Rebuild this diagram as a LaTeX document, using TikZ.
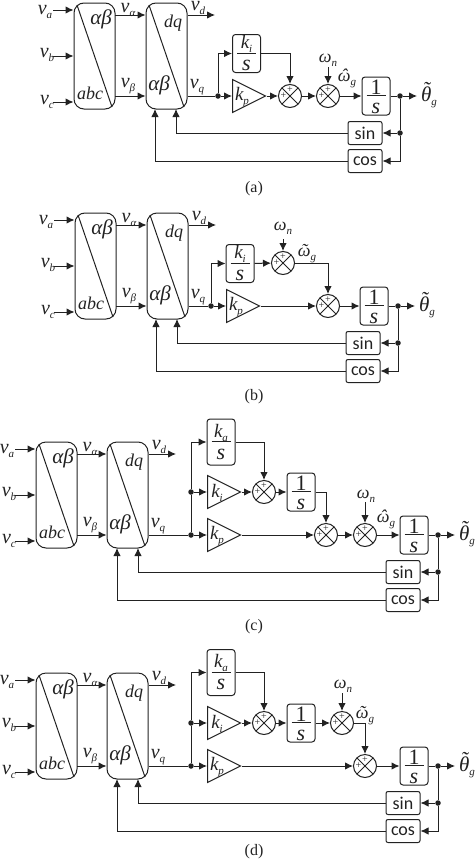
\documentclass[tikz,border=0pt]{standalone}
\usepackage{fontspec}
\setmainfont{Liberation Serif}
\newfontfamily\sinfont{Carlito}
\usetikzlibrary{arrows.meta,shapes.geometric}
\definecolor{ink}{HTML}{222222}
\newcommand\sbs[1]{\raisebox{-4pt}{\fontsize{11}{12}\selectfont\itshape #1}}
\newcommand\sbv[2]{#1\sbs{#2}}
\newcommand\vv[1]{{\fontsize{20}{20}\selectfont v}\sbs{#1}}
\newcommand\ab{{\fontsize{21}{22}\selectfont αβ}}
\newcommand\thg{{\fontsize{21}{22}\selectfont\acc{θ}{5pt}{˜}}\sbs{g}}
% accent placed over a letter: letter, raise, accent glyph
\newcommand\acc[3]{\leavevmode\ooalign{#1\cr\hidewidth\raisebox{#2}{#3}\hidewidth\cr}}
% fraction of fixed size: numerator, its raise, denominator
\newcommand\fr[3]{\makebox[0pt]{\raisebox{#2}[0pt][0pt]{#1}}\makebox[0pt]{\raisebox{0pt}[0pt][0pt]{\rule{19pt}{0.8pt}}}\makebox[0pt]{\raisebox{-17pt}[0pt][0pt]{#3}}}
\newcommand\kk[1]{{\fontsize{19}{20}\selectfont k}\sbs{#1}}
\tikzset{
 ln/.style={line width=1pt,draw=ink},
 arr/.style={ln,-{Latex[length=8pt,width=7.5pt]}},
 txt/.style={inner sep=0pt,text=ink,font=\fontsize{18}{20}\selectfont\itshape},
 conv/.style={ln,rectangle,rounded corners=10pt,minimum width=41pt,minimum height=106pt,inner sep=0pt},
 intbox/.style={ln,rectangle,rounded corners=3pt,minimum width=28pt,minimum height=38pt,inner sep=0pt,text=ink,font=\fontsize{22}{24}\selectfont\itshape},
 tallbox/.style={intbox,minimum height=46pt},
 fn/.style={ln,rectangle,rounded corners=2pt,minimum width=34pt,minimum height=23pt,inner sep=0pt,text=ink,font=\fontsize{18}{20}\selectfont\sinfont},
 tri/.style={ln,isosceles triangle,isosceles triangle stretches,shape border rotate=0,minimum width=33pt,minimum height=33pt,inner sep=0pt,anchor=lower side},
 sumj/.style={ln,circle,minimum size=23pt,inner sep=0pt,path picture={
   \draw[ln] (path picture bounding box.north west)--(path picture bounding box.south east);
   \draw[ln] (path picture bounding box.north east)--(path picture bounding box.south west);}},
 dot/.style={circle,fill=ink,inner sep=0pt,minimum size=5.5pt},
 plus/.style={inner sep=0pt,text=ink,font=\fontsize{10}{10}\selectfont},
 captext/.style={inner sep=0pt,text=ink,font=\fontsize{16}{18}\selectfont},
}
\newcommand\sumj[3]{%
 \node[sumj] (#1) at (#2,#3) {};
 \node[plus] (#1t) at ([yshift=6.5pt]#1.center) {+};
 \node[plus] (#1l) at ([xshift=-6.5pt]#1.center) {+};}
\newcommand\tri[4]{%
 \node[tri] (#1) at (#2,#3) {};
 \node[txt] (#1t) at (#2+10,#3+1) {\kk{#4}};}
% front part: two converters, inputs, outputs
\newcommand\front[4]{% prefix, x0, y0, dq offset
 \begin{scope}[shift={(#2,#3)}]
 \node[conv] (#1abc) at (20.5,53) {};
 \node[conv] (#1dq) at (#4+20.5,53) {};
 \coordinate (#1ia) at (-21,7);
 \coordinate (#1ib) at (-21,53);
 \coordinate (#1ic) at (-21,99);
 \coordinate (#1oa) at (41,12);
 \coordinate (#1ob) at (41,93);
 \coordinate (#1od) at (#4+69,12);
 \coordinate (#1fs) at (102,106);
 \coordinate (#1fc) at (81,106);
 \coordinate (#1ds1) at (3,2);
 \coordinate (#1de1) at (38,104);
 \coordinate (#1ds2) at (#4+3,2);
 \coordinate (#1de2) at (#4+38,104);
 \node[txt] (#1la) at (-29,9) {\vv{a}};
 \node[txt] (#1lb) at (-27,52) {\vv{b}};
 \node[txt] (#1lc) at (-27,99) {\vv{c}};
 \node[txt] (#1lab) at (27,16) {\ab};
 \node[txt] (#1labc) at (16,90) {abc};
 \node[txt] (#1ldq) at (#4+27,20) {dq};
 \node[txt] (#1lab2) at (#4+13,82) {\ab};
 \node[txt] (#1lva) at (54,7) {\vv{α}};
 \node[txt] (#1lvb) at (54,83) {\vv{β}};
 \node[txt] (#1lvd) at (#4+52,5) {\vv{d}};
 \node[txt] (#1lvq) at (#4+51,84) {\vv{q}};
 \end{scope}
 \draw[ln] (#1ds1)--(#1de1);
 \draw[ln] (#1ds2)--(#1de2);
 \draw[arr] (#1ia)--(#1ia-|#1abc.west);
 \draw[arr] (#1ib)--(#1ib-|#1abc.west);
 \draw[arr] (#1ic)--(#1ic-|#1abc.west);
 \draw[arr] (#1oa)--(#1oa-|#1dq.west);
 \draw[arr] (#1ob)--(#1ob-|#1dq.west);
 \draw[arr] (#1od-|#1dq.east)--(#1od);}
% back part: integrator, output, sin, cos, feedback
\newcommand\back[5]{% prefix, x, y, caption, caption y
 \node[intbox] (#1int) at (#2+14,#3) {\fr{\upshape 1}{2pt}{s}};
 \node[dot] (#1jo) at (#2+38,#3) {};
 \coordinate (#1out) at (#2+55,#3);
 \node[txt] (#1lth) at (#2+67,#3+1) {\thg};
 \node[fn] (#1sin) at (#2+3,#3+37) {sin};
 \node[fn] (#1cos) at (#2+3,#3+65) {cos};
 \node[dot] (#1js) at (#2+38,#3+37) {};
 \draw[ln] (#1int)--(#1jo);
 \draw[arr] (#1jo)--(#1out);
 \draw[ln] (#1jo)--(#1js);
 \draw[arr] (#1js)--(#1sin);
 \draw[arr] (#1js)|-(#1cos);
 \draw[arr] (#1sin)-|(#1fs);
 \draw[arr] (#1cos)-|(#1fc);
 \node[captext] (#1cap) at (254,#5) {(#4)};}
\begin{document}
\begin{tikzpicture}[x=1pt,y=-1pt]
\useasboundingbox (0,0) rectangle (474,862);
% ---------- (a)
\front{a}{74}{3}{72}
\back{a}{362}{96}{a}{189}
\node[dot] (aj) at (218,96) {};
\node[intbox] (aki) at (246.5,53.5) {\fr{\kk{i}}{5pt}{s}};
\tri{akp}{232}{96}{p}
\sumj{as1}{290}{96}
\sumj{as2}{328}{96}
\coordinate (awn) at (328,67);
\node[txt] (alwn) at (328,60) {\sbv{ω}{n}};
\node[txt] (alwg) at (347,80) {\acc{ω}{0pt}{ˆ}\sbs{g}};
\draw[ln] (adq.east|-aj)--(aj);
\draw[arr] (aj)--(akp.lower side);
\draw[arr] (aj)|-(aki);
\draw[arr] (aki)-|(as1);
\draw[arr] (akp.apex)--(as1);
\draw[arr] (as1)--(as2);
\draw[arr] (awn)--(as2);
\draw[arr] (as2)--(aint);
% ---------- (b)
\front{b}{75}{213}{72}
\back{b}{360}{306}{b}{397}
\node[dot] (bj) at (211,306) {};
\node[intbox] (bki) at (240,263.5) {\fr{\kk{i}}{5pt}{s}};
\tri{bkp}{226}{306}{p}
\sumj{bs1}{283}{263}
\sumj{bs2}{328}{306}
\coordinate (bwn) at (283,239);
\node[txt] (blwn) at (283,228) {\sbv{ω}{n}};
\node[txt] (blwg) at (307,255) {\acc{ω}{0pt}{˜}\sbs{g}};
\draw[ln] (bdq.east|-bj)--(bj);
\draw[arr] (bj)--(bkp.lower side);
\draw[arr] (bj)|-(bki);
\draw[arr] (bki)--(bs1);
\draw[arr] (bwn)--(bs1);
\draw[arr] (bs1)-|(bs2);
\draw[arr] (bkp.apex)--(bs2);
\draw[arr] (bs2)--(bint);
% ---------- (c)
\front{c}{36}{442}{71}
\back{c}{400}{535}{c}{627}
\node[dot] (cj) at (191,535) {};
\node[dot] (cj2) at (191,492) {};
\node[tallbox] (cka) at (221,442) {\fr{\kk{a}}{5pt}{s}};
\tri{cki}{207}{492}{i}
\tri{ckp}{207}{535}{p}
\sumj{cs1}{264}{492}
\node[intbox] (ci1) at (301,492) {\fr{\upshape 1}{2pt}{s}};
\sumj{cs2}{326}{535}
\sumj{cs3}{365}{535}
\coordinate (cwn) at (365,502);
\node[txt] (clwn) at (366,496) {\sbv{ω}{n}};
\node[txt] (clwg) at (386,521) {\acc{ω}{0pt}{ˆ}\sbs{g}};
\draw[ln] (cdq.east|-cj)--(cj);
\draw[ln] (cj)--(cj2);
\draw[arr] (cj)--(ckp.lower side);
\draw[arr] (cj2)--(cki.lower side);
\draw[arr] (cj2)|-(cka);
\draw[arr] (cka)-|(cs1);
\draw[arr] (cki.apex)--(cs1);
\draw[arr] (cs1)--(ci1);
\draw[arr] (ci1)-|(cs2);
\draw[arr] (ckp.apex)--(cs2);
\draw[arr] (cs2)--(cs3);
\draw[arr] (cwn)--(cs3);
\draw[arr] (cs3)--(cint);
% ---------- (d)
\front{d}{36}{673}{71}
\back{d}{400}{766}{d}{852}
\node[dot] (dj) at (191,766) {};
\node[dot] (dj2) at (191,723) {};
\node[tallbox] (dka) at (221,672.5) {\fr{\kk{a}}{5pt}{s}};
\tri{dki}{207}{723}{i}
\tri{dkp}{207}{766}{p}
\sumj{ds1}{264}{723}
\node[intbox] (di1) at (301,723) {\fr{\upshape 1}{2pt}{s}};
\sumj{ds2}{342}{723}
\sumj{ds3}{365}{766}
\coordinate (dwn) at (342,693);
\node[txt] (dlwn) at (343,686) {\sbv{ω}{n}};
\node[txt] (dlwg) at (365,717) {\acc{ω}{0pt}{˜}\sbs{g}};
\draw[ln] (ddq.east|-dj)--(dj);
\draw[ln] (dj)--(dj2);
\draw[arr] (dj)--(dkp.lower side);
\draw[arr] (dj2)--(dki.lower side);
\draw[arr] (dj2)|-(dka);
\draw[arr] (dka)-|(ds1);
\draw[arr] (dki.apex)--(ds1);
\draw[arr] (ds1)--(di1);
\draw[arr] (di1)--(ds2);
\draw[arr] (dwn)--(ds2);
\draw[arr] (ds2)-|(ds3);
\draw[arr] (dkp.apex)--(ds3);
\draw[arr] (ds3)--(dint);
\end{tikzpicture}
\end{document}
